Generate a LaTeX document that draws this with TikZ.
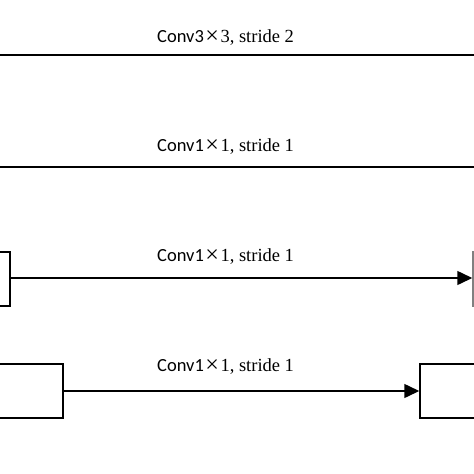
\documentclass[tikz,border=0pt]{standalone}
\usepackage{fontspec}
\usepackage{graphicx}
\setmainfont{Liberation Serif}
\newfontfamily\convfont{Carlito}
\usetikzlibrary{arrows.meta}
\tikzset{
  lbl/.style={anchor=base west, inner sep=0pt, font=\fontsize{18.5}{20}\selectfont},
  blk/.style={draw, line width=1.5pt, minimum height=54pt, inner sep=0pt},
  conn/.style={line width=1.7pt},
  arr/.style={line width=1.5pt, -{Triangle[length=15pt,width=14pt]}}
}
\newcommand{\convlbl}[2]{{\convfont Conv#1}\kern1.5pt\raisebox{-0.6pt}{\scalebox{1.3}{×}}\kern1.5pt#1, stride #2}
\begin{document}
\begin{tikzpicture}[x=1pt,y=-1pt]
\useasboundingbox (0,0) rectangle (474,474);
\clip (0,0) rectangle (474,474);
% row 1
\coordinate (r1a) at (-5,55);
\coordinate (r1b) at (480,55);
\draw[conn] (r1a) -- (r1b);
\node[lbl] (t1) at (157,42.7) {\convlbl{3}{2}};
% row 2
\coordinate (r2a) at (-5,167);
\coordinate (r2b) at (480,167);
\draw[conn] (r2a) -- (r2b);
\node[lbl] (t2) at (157,151.7) {\convlbl{1}{1}};
% row 3
\node[blk, minimum width=60pt] (l3) at (-20,279) {};
\node[blk, draw=gray, minimum width=60pt] (r3) at (503,279) {};
\draw[arr] (l3.east |- 0,278) -- (r3.west |- 0,278);
\node[lbl] (t3) at (157,261.7) {\convlbl{1}{1}};
% row 4
\node[blk, minimum width=100pt] (l4) at (13,391) {};
\node[blk, minimum width=100pt] (r4) at (470,391) {};
\draw[arr] (l4) -- (r4);
\node[lbl] (t4) at (157,371.7) {\convlbl{1}{1}};
\end{tikzpicture}
\end{document}
